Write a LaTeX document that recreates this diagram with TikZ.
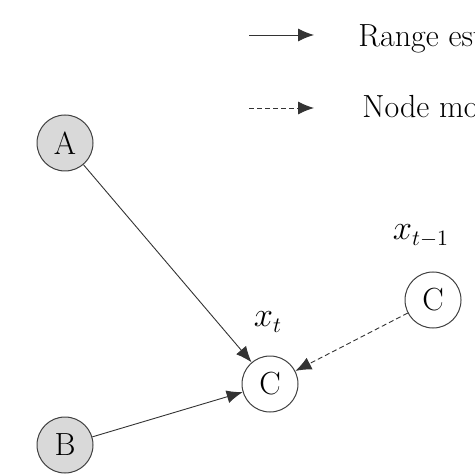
\documentclass[tikz,border=0pt]{standalone}
\usetikzlibrary{arrows.meta}
\begin{document}
\begin{tikzpicture}[x=0.5pt,y=-0.5pt,
  font=\fontsize{16}{19}\selectfont,
  vnode/.style={circle,draw=black!75,line width=0.5pt,minimum size=28pt,inner sep=0pt},
  anchornode/.style={vnode,fill=black!15},
  rangeedge/.style={draw=black!80,line width=0.45pt,-{Latex[length=8pt,width=6.5pt]}},
  moveedge/.style={rangeedge,dashed,dash pattern=on 2.5pt off 1.5pt}]
\useasboundingbox (0,0) rectangle (474,474);
\clip (0,0) rectangle (474,474);
\node[anchornode] (A) at (65,143) {A};
\node[anchornode] (B) at (65,445) {B};
\node[vnode] (C) at (270,384) {C};
\node[vnode] (Cp) at (433,300) {C};
\node (lt) at (268,322) {$x_t$};
\node (ltp) at (421,236) {$x_{t-1}$};
\draw[rangeedge] (A) -- (C);
\draw[rangeedge] (B) -- (C);
\draw[moveedge] (Cp) -- (C);
\coordinate (l1a) at (249,35);
\coordinate (l1b) at (314,35);
\coordinate (l2a) at (249,108);
\coordinate (l2b) at (314,108);
\draw[rangeedge] (l1a) -- (l1b);
\draw[moveedge] (l2a) -- (l2b);
\node[anchor=base west,inner sep=0pt] (t1) at (358,47) {Range estimation};
\node[anchor=base west,inner sep=0pt] (t2) at (362,118) {Node motion};
\end{tikzpicture}
\end{document}
